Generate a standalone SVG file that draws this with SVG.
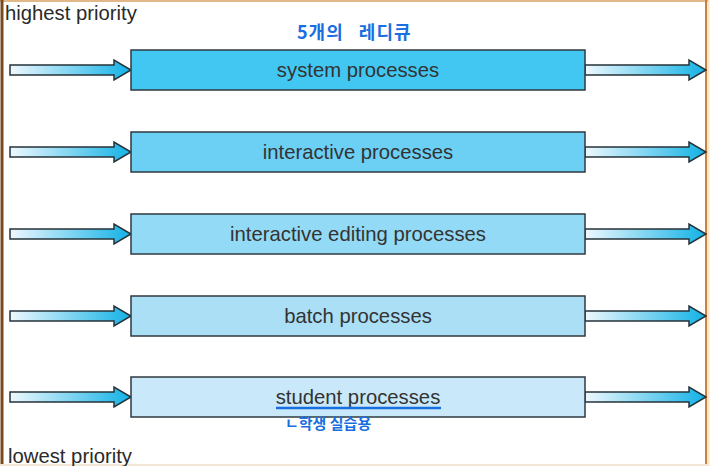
<svg xmlns="http://www.w3.org/2000/svg" width="710" height="466" viewBox="0 0 710 466">
<style>
.box{stroke:#2f3a40;stroke-width:1.5}
.arr{fill:url(#ag);stroke:#263238;stroke-width:1.5;stroke-linejoin:miter}
.lbl{font-family:"Liberation Sans",Arial,sans-serif;font-size:20.3px;fill:#333;text-anchor:middle}
.side{font-family:"Liberation Sans",Arial,sans-serif;font-size:20.3px;fill:#2a2a2a}
.note{font-family:"Noto Sans CJK KR","Noto Sans",sans-serif;font-weight:bold;fill:#1a6fe0}
</style>
<defs>
<linearGradient id="ag" x1="0" y1="0" x2="1" y2="0">
<stop offset="0" stop-color="#eef8fd"/>
<stop offset="1" stop-color="#12b2e6"/>
</linearGradient>
<path id="la" d="M10,65 H114 V60 L131,70 L114,80 V75 H10 Z"/>
<path id="ra" d="M585,65 H689 V60 L706,70 L689,80 V75 H585 Z"/>
</defs>
<rect x="0" y="0" width="710" height="466" fill="#fff"/>
<line x1="708" y1="0" x2="708" y2="466" stroke="#fde3c8" stroke-width="3"/>
<line x1="0" y1="1" x2="708" y2="1" stroke="#d9a060" stroke-width="1.5"/>
<line x1="706" y1="0" x2="706" y2="466" stroke="#c7833c" stroke-width="2"/>
<line x1="2" y1="0" x2="2" y2="466" stroke="#7a4a1e" stroke-width="3"/>
<line x1="0" y1="465" x2="708" y2="465" stroke="#f3e6d6" stroke-width="2"/>
<text class="side" x="5" y="20">highest priority</text>
<text class="side" x="8" y="463">lowest priority</text>
<g id="connectors">
<use href="#la" class="arr"/>
<use href="#ra" class="arr"/>
<use href="#la" class="arr" y="82"/>
<use href="#ra" class="arr" y="82"/>
<use href="#la" class="arr" y="164"/>
<use href="#ra" class="arr" y="164"/>
<use href="#la" class="arr" y="246"/>
<use href="#ra" class="arr" y="246"/>
<use href="#la" class="arr" y="327"/>
<use href="#ra" class="arr" y="327"/>
</g>
<g id="system"><rect class="box" x="131" y="50" width="454" height="40" fill="#42c7f3"/><text class="lbl" x="358" y="77">system processes</text></g>
<g id="interactive"><rect class="box" x="131" y="132" width="454" height="40" fill="#6ccff4"/><text class="lbl" x="358" y="159">interactive processes</text></g>
<g id="editing"><rect class="box" x="131" y="214" width="454" height="40" fill="#93daf6"/><text class="lbl" x="358" y="241">interactive editing processes</text></g>
<g id="batch"><rect class="box" x="131" y="296" width="454" height="40" fill="#aadff6"/><text class="lbl" x="358" y="323">batch processes</text></g>
<g id="student"><rect class="box" x="131" y="377" width="454" height="40" fill="#c9e9fa"/><text class="lbl" x="358" y="404">student processes</text></g>
<g id="annotations">
<text class="note" x="297" y="39" font-size="18" letter-spacing="1" word-spacing="10">5개의 레디큐</text>
<line x1="276" y1="408" x2="441" y2="408" stroke="#1a6fe0" stroke-width="2.5"/>
<text class="note" x="285" y="429" font-size="15">ㄴ학생 실습용</text>
</g>
</svg>
